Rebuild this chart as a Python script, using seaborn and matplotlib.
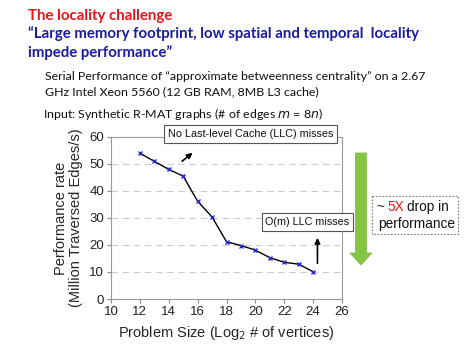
import matplotlib
matplotlib.use("Agg")
import matplotlib.pyplot as plt
import seaborn as sns
import pandas as pd
from matplotlib.patches import FancyArrow, FancyBboxPatch

# ---- data ----
problem_size = [12, 13, 14, 15, 16, 17, 18, 19, 20, 21, 22, 23, 24]
perf_rate = [54.0, 51.0, 48.0, 45.5, 36.2, 30.4, 21.2, 19.8, 18.1, 15.3, 13.6, 12.9, 10.1]
x_ticks = [10, 12, 14, 16, 18, 20, 22, 24, 26]
y_ticks = [0, 10, 20, 30, 40, 50, 60]

df = pd.DataFrame({"size": problem_size, "perf": perf_rate})

sns.set_theme(style="white")
plt.rcParams['font.family'] = ['Liberation Sans', 'DejaVu Sans']

W, H = 474, 355
fig = plt.figure(figsize=(W / 100, H / 100), dpi=100)
fig.patch.set_facecolor("white")

# overlay (pixel coords) for free text / shapes
ov = fig.add_axes([0, 0, 1, 1], zorder=0)
ov.set_xlim(0, W)
ov.set_ylim(H, 0)
ov.axis("off")

ax = fig.add_axes([111 / W, 1 - 299 / H, (342 - 111) / W, (299 - 137) / H], zorder=1)
ax.patch.set_alpha(0)

sns.lineplot(data=df, x="size", y="perf", ax=ax, color="black", linewidth=1.0,
             marker="x", markersize=3.5, markeredgecolor="#2a2acc", markeredgewidth=1.0)

ax.set_xlim(10, 26)
ax.set_ylim(0, 60)
ax.set_xticks(x_ticks)
ax.set_yticks(y_ticks)
ax.tick_params(axis="both", labelsize=9.5, length=3, width=0.8, color="#888888",
               direction="out", bottom=True, left=True, pad=2, labelcolor="#222222")
for s in ax.spines.values():
    s.set_color("#999999")
    s.set_linewidth(0.8)
for yv in y_ticks[1:-1]:
    ax.axhline(yv, color="#cccccc", linestyle=(0, (6, 4)), linewidth=0.8, zorder=0)

ax.set_xlabel("Problem Size (Log$_2$ # of vertices)", fontsize=10.5)
ax.xaxis.set_label_coords((226 - 111) / 231, -(324 - 299) / 162)
ax.set_ylabel("Performance rate\n(Million Traversed Edges/s)", fontsize=10.5,
              linespacing=1.05)
ax.yaxis.set_label_coords(-(111 - 83) / 231, 0.5)

# annotations
ax.annotate("", xy=(15.8, 54.8), xytext=(14.78, 50.4),
            arrowprops=dict(arrowstyle="-|>", color="black", lw=1.2, mutation_scale=8))
ax.annotate("", xy=(24.3, 23.7), xytext=(24.3, 12.2),
            arrowprops=dict(arrowstyle="-|>", color="black", lw=1.2, mutation_scale=8))

# text in pixel coords (overlay)
ov.text(28, 16, "The locality challenge", color="#e8141a", fontsize=10.8,
        fontweight="bold", family=["Lato", "DejaVu Sans"], va="center", ha="left")
ov.text(28, 34, "\u201cLarge memory footprint, low spatial and temporal  locality",
        color="#1a1aa6", fontsize=10.8, fontweight="bold", family=["Lato", "DejaVu Sans"],
        va="center", ha="left")
ov.text(28, 53, "impede performance\u201d", color="#1a1aa6", fontsize=10.8,
        fontweight="bold", family=["Lato", "DejaVu Sans"], va="center", ha="left")
ov.text(45, 77, "Serial Performance of \u201capproximate betweenness centrality\u201d on a 2.67",
        color="#111111", fontsize=8.9, family=["Lato", "DejaVu Sans"], va="center", ha="left")
ov.text(45, 92, "GHz Intel Xeon 5560 (12 GB RAM, 8MB L3 cache)",
        color="#111111", fontsize=8.9, family=["Lato", "DejaVu Sans"], va="center", ha="left")
ov.text(43, 114, "Input: Synthetic R-MAT graphs (# of edges $m$ = 8$n$)",
        color="#111111", fontsize=8.9, family=["Lato", "DejaVu Sans"], va="center", ha="left")

ov2 = fig.add_axes([0, 0, 1, 1], zorder=3)
ov2.set_xlim(0, W)
ov2.set_ylim(H, 0)
ov2.axis("off")
ov2.patch.set_alpha(0)

def box2(x0, y0, x1, y1, ls="-", lw=0.8, ec="#555555"):
    p = FancyBboxPatch((x0, y0), x1 - x0, y1 - y0, boxstyle="square,pad=0",
                       fc="white", ec=ec, lw=lw, ls=ls, zorder=5)
    ov2.add_patch(p)

box2(164, 125, 337, 143)
ov2.text(250.5, 134, "No Last-level Cache (LLC) misses", fontsize=7.8, ha="center",
         va="center", color="#111111", zorder=6)
box2(262, 213, 353, 231)
ov2.text(307.5, 222, "O(m) LLC misses", fontsize=7.8, ha="center", va="center",
         color="#111111", zorder=6)

# green arrow
ga = FancyArrow(361, 153, 0, 112, width=11, head_width=22, head_length=12,
                length_includes_head=True, fc="#86c444", ec="#7ab83a", lw=0.5, zorder=4)
ov2.add_patch(ga)

box2(372, 196, 458, 234, ls=(0, (1.5, 1.5)), lw=0.8, ec="#777777")
ov2.text(376, 207, "~", fontsize=9.8, ha="left", va="center", color="#111111", zorder=6)
ov2.text(387, 207, "5X", fontsize=9.8, ha="left", va="center", color="#e8141a", zorder=6)
ov2.text(407.5, 207, "drop in", fontsize=9.8, ha="left", va="center", color="#111111", zorder=6)
ov2.text(378, 224, "performance", fontsize=9.8, ha="left", va="center", color="#111111", zorder=6)

fig.savefig("out.png", dpi=100)
